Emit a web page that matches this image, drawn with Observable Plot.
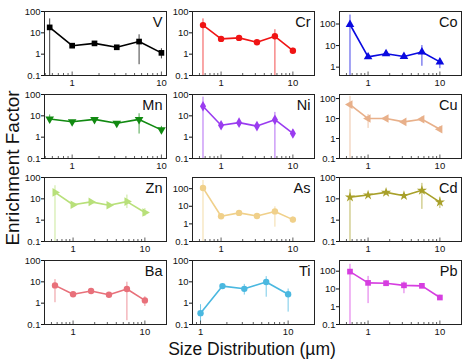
<!DOCTYPE html>
<html><head><meta charset="utf-8">
<script src="https://cdn.jsdelivr.net/npm/d3@7"></script>
<script src="https://cdn.jsdelivr.net/npm/@observablehq/plot@0.6"></script>
<style>
body{margin:0;background:#fff;}
#wrap{position:relative;width:474px;height:363px;background:#fff;overflow:hidden;font-family:"Liberation Sans",Arial,sans-serif;}
#wrap svg{position:absolute;}
.ytitle{position:absolute;left:13px;top:168px;transform:translate(-50%,-50%) rotate(-90deg);font-size:19px;white-space:nowrap;color:#111;}
.xtitle{position:absolute;left:252px;top:349px;transform:translate(-50%,-50%);font-size:17.5px;white-space:nowrap;color:#111;}
</style></head>
<body>
<div id="wrap">
  <div class="ytitle">Enrichment Factor</div>
  <div class="xtitle">Size Distribution (µm)</div>
</div>
<script>
// ---- data ----
const sizes   = [0.56, 1, 1.78, 3.16, 5.62, 10];
const tiSizes = [1, 1.78, 3.16, 5.62, 10];
const elements = ["V","Cr","Co","Mn","Ni","Cu","Zn","As","Cd","Ba","Ti","Pb"];

const V_ef  = [18, 2.5, 3.2, 2.1, 3.9, 1.15];
const V_lo  = [0.05, 2.1, 2.6, 1.8, 0.32, 0.6];
const V_hi  = [45, 2.9, 3.9, 2.5, 8.1, 1.8];
const Cr_ef = [23, 5.2, 5.8, 3.6, 6.9, 1.45];
const Cr_lo = [0.05, 4.5, 5, 3.1, 0.05, 1.1];
const Cr_hi = [45, 6, 6.7, 4.2, 14, 1.9];
const Co_ef = [95, 3.0, 4.2, 3.1, 5.0, 1.75];
const Co_lo = [0.1, 2.5, 3.5, 2.6, 1.1, 0.85];
const Co_hi = [260, 3.6, 5.0, 3.6, 10, 2.5];
const Mn_ef = [7.1, 5.3, 6.8, 4.5, 6.8, 2.2];
const Mn_lo = [4.5, 4.6, 5.9, 3.9, 1.4, 1.5];
const Mn_hi = [11, 6.1, 7.8, 5.2, 12.5, 3.2];
const Ni_ef = [28, 3.6, 4.8, 3.3, 6.6, 1.5];
const Ni_lo = [0.05, 3.0, 4.1, 2.8, 0.05, 0.95];
const Ni_hi = [75, 4.3, 5.6, 3.9, 14.5, 2.2];
const Cu_ef = [50, 10, 10, 6.8, 9.2, 2.9];
const Cu_lo = [0.05, 3.2, 8.8, 5.8, 7, 2.2];
const Cu_hi = [130, 16, 11.5, 8, 12, 4];
const Zn_ef = [20, 5.3, 7.2, 5.0, 7.4, 2.3];
const Zn_lo = [0.05, 4.6, 6.3, 4.3, 3.5, 1.5];
const Zn_hi = [41, 6.1, 8.2, 5.8, 15, 3.5];
const As_ef = [110, 2.7, 4.2, 2.8, 5.1, 1.75];
const As_lo = [0.05, 2.3, 3.6, 2.4, 0.65, 1.1];
const As_hi = [290, 3.2, 4.9, 3.3, 9.3, 2.5];
const Cd_ef = [12, 15, 20, 14, 25, 7];
const Cd_lo = [0.05, 13, 17, 12, 3.2, 3.5];
const Cd_hi = [27, 17.5, 23, 16.5, 53, 12];
const Ba_ef = [6.8, 2.6, 3.7, 2.5, 4.6, 1.35];
const Ba_lo = [1.05, 2.2, 3.1, 2.1, 0.15, 0.7];
const Ba_hi = [12.7, 3.0, 4.3, 2.9, 9.6, 2.0];
const Ti_ef = [0.34, 6.3, 4.7, 9.8, 2.6];
const Ti_lo = [0.12, 4.5, 2.4, 1.9, 0.38];
const Ti_hi = [0.85, 8, 7.6, 17.5, 4.6];
const Pb_ef = [95, 22, 21, 16, 15, 3.3];
const Pb_lo = [0.05, 1.5, 14, 5.4, 11, 2.3];
const Pb_hi = [245, 51, 30, 25, 20, 4.5];

const yTicksStd = [0.1, 1, 10, 100];
const yTicksCo  = [1, 10, 100];
const xTickLabels = [1, 10];

// ---- styles ----
const colors = ["#000000","#f01414","#0a0ae0","#118a11","#9a3cf0","#e8b08a","#b8e07a","#f0d08a","#a8a02a","#e8707a","#4ab8e0","#d63ee0"];
const sq3 = Math.sqrt(3);
function tri(dir){
  return {draw(ctx, size){
    const y = -Math.sqrt(size / (sq3 * 3));
    const pts = [[0, y*2],[-sq3*y, -y],[sq3*y, -y]];
    const t = pts.map(([a,b]) => dir==="down" ? [a,-b] : dir==="left" ? [b,a] : [-b,a]);
    ctx.moveTo(t[0][0], t[0][1]); ctx.lineTo(t[1][0], t[1][1]); ctx.lineTo(t[2][0], t[2][1]); ctx.closePath();
  }};
}
const symbols = ["square","circle","triangle",tri("down"),"diamond",tri("left"),tri("right"),"circle","star","circle","circle","square"];

const colLeft = [44, 192, 339];
const rowTop = [11, 94, 177, 260];
const FW = 122, FH = 64;

const panels = [
  {x:sizes, v:V_ef, lo:V_lo, hi:V_hi, xd:[0.49, 11.4], yd:[0.1,100], yt:yTicksStd},
  {x:sizes, v:Cr_ef, lo:Cr_lo, hi:Cr_hi, xd:[0.4, 20], yd:[0.1,100], yt:yTicksStd},
  {x:sizes, v:Co_ef, lo:Co_lo, hi:Co_hi, xd:[0.4, 20], yd:[0.41,380], yt:yTicksCo},
  {x:sizes, v:Mn_ef, lo:Mn_lo, hi:Mn_hi, xd:[0.49, 11.4], yd:[0.1,100], yt:yTicksStd},
  {x:sizes, v:Ni_ef, lo:Ni_lo, hi:Ni_hi, xd:[0.4, 20], yd:[0.1,100], yt:yTicksStd},
  {x:sizes, v:Cu_ef, lo:Cu_lo, hi:Cu_hi, xd:[0.4, 20], yd:[0.1,160], yt:yTicksStd},
  {x:sizes, v:Zn_ef, lo:Zn_lo, hi:Zn_hi, xd:[0.4, 20], yd:[0.1,100], yt:yTicksStd},
  {x:sizes, v:As_ef, lo:As_lo, hi:As_hi, xd:[0.4, 20], yd:[0.1,430], yt:yTicksStd},
  {x:sizes, v:Cd_ef, lo:Cd_lo, hi:Cd_hi, xd:[0.4, 20], yd:[0.1,100], yt:yTicksStd},
  {x:sizes, v:Ba_ef, lo:Ba_lo, hi:Ba_hi, xd:[0.4, 20], yd:[0.1,100], yt:yTicksStd},
  {x:tiSizes, v:Ti_ef, lo:Ti_lo, hi:Ti_hi, xd:[0.81, 20], yd:[0.1,100], yt:yTicksStd},
  {x:sizes, v:Pb_ef, lo:Pb_lo, hi:Pb_hi, xd:[0.4, 20], yd:[0.1,400], yt:yTicksStd}
];

const ML = 30, MR = 4, MT = 4, MB = 16;
const minorAll = [0.4,0.5,0.6,0.7,0.8,0.9,2,3,4,5,6,7,8,9,20];
const fmt = d => d < 1 ? d.toFixed(1) : String(d);
const wrap = document.getElementById("wrap");

panels.forEach((p, i) => {
  const col = i % 3, row = Math.floor(i / 3);
  const color = colors[i];
  const data = p.x.map((x, k) => ({x, v: p.v[k], lo: p.lo[k], hi: p.hi[k]}));
  const minor = minorAll.filter(d => d > p.xd[0] && d < p.xd[1]);
  const major = xTickLabels.filter(d => d > p.xd[0] && d < p.xd[1]);
  const svg = Plot.plot({
    width: FW + ML + MR, height: FH + MT + MB,
    marginLeft: ML, marginRight: MR, marginTop: MT, marginBottom: MB,
    style: {fontFamily: "'Liberation Sans', Arial, sans-serif", fontSize: "9.5px", background: "transparent", color: "#111", overflow: "visible"},
    x: {type: "log", domain: p.xd},
    y: {type: "log", domain: p.yd},
    marks: [
      Plot.ruleX(data, {x: "x", y1: "lo", y2: "hi", stroke: color, strokeWidth: 1, strokeOpacity: 0.75, clip: true}),
      Plot.line(data, {x: "x", y: "v", stroke: color, strokeWidth: 1.6}),
      Plot.dot(data, {x: "x", y: "v", symbol: symbols[i], fill: color, stroke: "none", r: 3.2}),
      Plot.tickX(minor, {x: d => d, insetTop: FH - 2, stroke: "#333", strokeWidth: 0.8}),
      Plot.tickX(major, {x: d => d, insetTop: FH - 3.5, stroke: "#333", strokeWidth: 0.8}),
      Plot.axisX({ticks: major, tickSize: 0, tickPadding: 4, tickFormat: d => String(d), label: null}),
      Plot.axisY({ticks: p.yt, tickSize: 3, tickPadding: 1, tickFormat: fmt, label: null}),
      Plot.frame({stroke: "#222", strokeWidth: 1}),
      Plot.text([elements[i]], {text: d => d, frameAnchor: "top-right", dx: -4, dy: 5, fontSize: 14.5, fill: "#111", textAnchor: "end", lineAnchor: "top"})
    ]
  });
  svg.style.left = (colLeft[col] - ML) + "px";
  svg.style.top = (rowTop[row] - MT) + "px";
  wrap.appendChild(svg);
});
</script>
</body></html>
